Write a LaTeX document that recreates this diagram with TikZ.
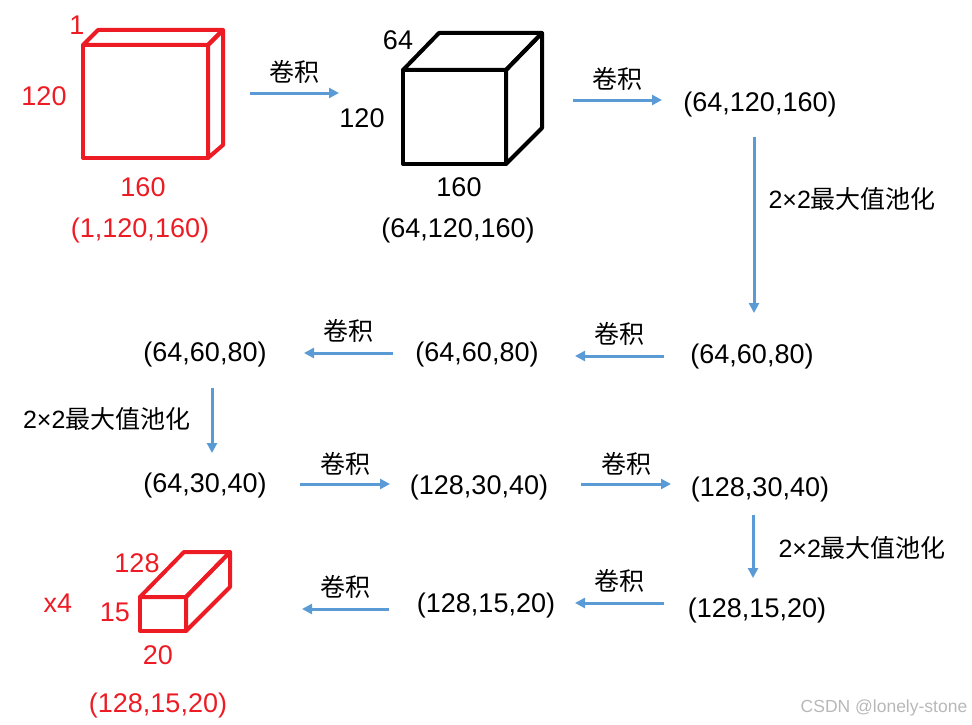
\documentclass[tikz,border=0pt]{standalone}
\usepackage{fontspec}
\setmainfont{Liberation Sans}
\newfontfamily\cjk{Noto Sans CJK SC}
\usetikzlibrary{arrows.meta}
\definecolor{boxred}{RGB}{237,28,36}
\definecolor{flowblue}{RGB}{91,155,213}

\begin{document}
\begin{tikzpicture}[x=1pt,y=-1pt]
  \tikzset{
    Dim/.style = {font=\fontsize{27}{27}\selectfont, inner sep=0pt},
    RedDim/.style = {Dim, text=boxred},
    OpLabel/.style = {font=\cjk\fontsize{25}{25}\selectfont, inner sep=0pt},
    Flow/.style = {draw=flowblue, line width=3pt,
      -{Triangle[length=10pt,width=10pt]}},
    Cube/.style = {line width=4pt, line join=round}}
  \useasboundingbox (0,0) rectangle (972,725);

  % input block
  \begin{scope}[Cube, draw=boxred]
    \draw (83,45) rectangle (208,158);
    \draw (83,45) -- (98,30) -- (223,30) -- (208,45) -- cycle;
    \draw (208,45) -- (223,30) -- (223,145) -- (208,158) -- cycle;
  \end{scope}
  \node[RedDim] (inC) at (77,25) {1};
  \node[RedDim] (inH) at (44,96) {120};
  \node[RedDim] (inW) at (143,187) {160};
  \node[RedDim] (inT) at (140,231) {(1,120,160)};

  % first feature block
  \begin{scope}[Cube, draw=black]
    \draw (403,70) rectangle (506,164);
    \draw (403,70) -- (439,33) -- (542,33) -- (506,70) -- cycle;
    \draw (506,70) -- (542,33) -- (542,128) -- (506,164) -- cycle;
  \end{scope}
  \node[Dim] (f1C) at (398,40) {64};
  \node[Dim] (f1H) at (362,118) {120};
  \node[Dim] (f1W) at (459,187) {160};
  \node[Dim] (f1T) at (458,231) {(64,120,160)};

  % output block
  \begin{scope}[Cube, draw=boxred]
    \draw (140,597) rectangle (186,631);
    \draw (140,597) -- (184,552) -- (230,552) -- (186,597) -- cycle;
    \draw (186,597) -- (230,552) -- (230,587) -- (186,631) -- cycle;
  \end{scope}
  \node[RedDim] (outC) at (137,563) {128};
  \node[RedDim] (outH) at (115,612) {15};
  \node[RedDim] (outW) at (158,655) {20};
  \node[RedDim] (outN) at (58,603) {x4};
  \node[RedDim] (outT) at (158,706) {(128,15,20)};

  % shapes
  \node[Dim] (s2) at (760,105) {(64,120,160)};
  \node[Dim] (s3) at (752,357) {(64,60,80)};
  \node[Dim] (s4) at (477,355) {(64,60,80)};
  \node[Dim] (s5) at (205,355) {(64,60,80)};
  \node[Dim] (s6) at (205,486) {(64,30,40)};
  \node[Dim] (s7) at (479,488) {(128,30,40)};
  \node[Dim] (s8) at (760,490) {(128,30,40)};
  \node[Dim] (s9) at (757,611) {(128,15,20)};
  \node[Dim] (s10) at (486,606) {(128,15,20)};

  % arrow ends
  \coordinate (a1s) at (250,93);   \coordinate (a1e) at (339,93);
  \coordinate (a2s) at (573,100);  \coordinate (a2e) at (662,100);
  \coordinate (p1s) at (754,137);  \coordinate (p1e) at (754,313);
  \coordinate (a3s) at (664,356);  \coordinate (a3e) at (575,356);
  \coordinate (a4s) at (393,353);  \coordinate (a4e) at (304,353);
  \coordinate (p2s) at (212,388);  \coordinate (p2e) at (212,453);
  \coordinate (a5s) at (300,484);  \coordinate (a5e) at (390,484);
  \coordinate (a6s) at (581,484);  \coordinate (a6e) at (671,484);
  \coordinate (p3s) at (753,515);  \coordinate (p3e) at (753,578);
  \coordinate (a7s) at (664,603);  \coordinate (a7e) at (575,603);
  \coordinate (a8s) at (389,609);  \coordinate (a8e) at (302,609);

  \draw[Flow] (a1s) -- node[OpLabel, above=8pt] (op1) {卷积} (a1e);
  \draw[Flow] (a2s) -- node[OpLabel, above=8pt] (op2) {卷积} (a2e);
  \draw[Flow] (p1s) -- node[OpLabel, pos=.35, anchor=west, xshift=13pt] (pool1) {{\rmfamily 2×2}最大值池化} (p1e);
  \draw[Flow] (a3s) -- node[OpLabel, above=9pt] (op3) {卷积} (a3e);
  \draw[Flow] (a4s) -- node[OpLabel, above=9pt] (op4) {卷积} (a4e);
  \draw[Flow] (p2s) -- node[OpLabel, pos=.47, anchor=east, xshift=-20pt] (pool2) {{\rmfamily 2×2}最大值池化} (p2e);
  \draw[Flow] (a5s) -- node[OpLabel, above=7pt] (op5) {卷积} (a5e);
  \draw[Flow] (a6s) -- node[OpLabel, above=7pt] (op6) {卷积} (a6e);
  \draw[Flow] (p3s) -- node[OpLabel, pos=.53, anchor=west, xshift=24pt] (pool3) {{\rmfamily 2×2}最大值池化} (p3e);
  \draw[Flow] (a7s) -- node[OpLabel, above=9pt] (op7) {卷积} (a7e);
  \draw[Flow] (a8s) -- node[OpLabel, above=9pt] (op8) {卷积} (a8e);

  \node[font=\fontsize{17.5}{17.5}\selectfont, text=black!28, inner sep=0pt] (mark) at (884,708) {CSDN @lonely-stone};
\end{tikzpicture}
\end{document}
